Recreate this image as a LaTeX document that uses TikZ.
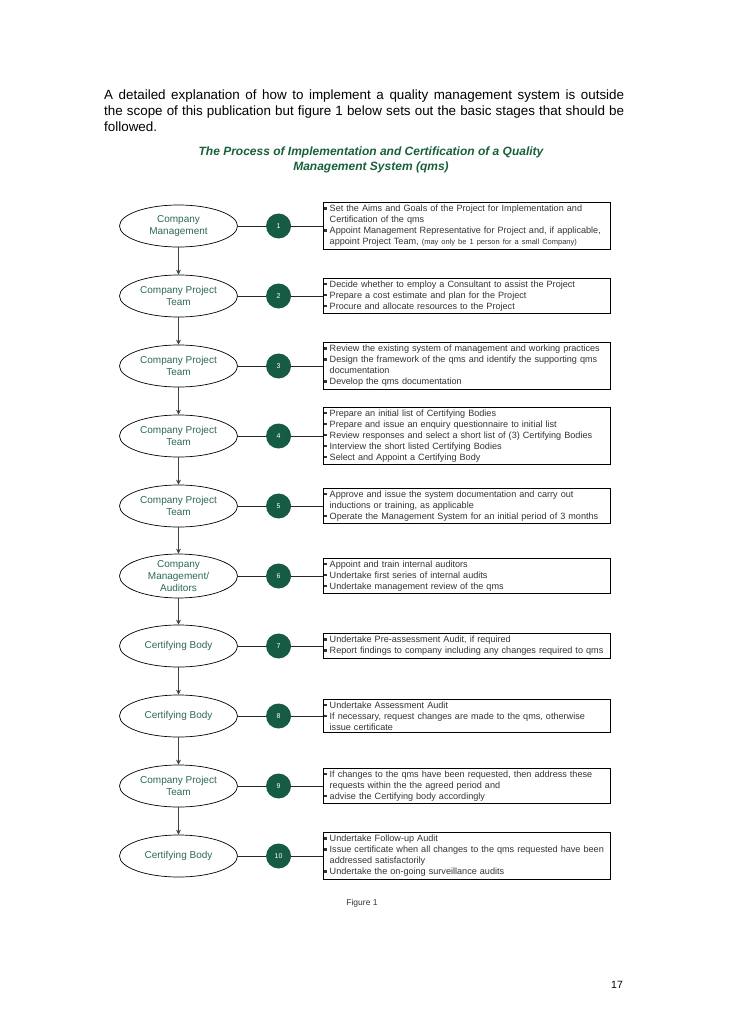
\documentclass[tikz,border=0pt]{standalone}
\usepackage{fontspec}
\setmainfont{Liberation Sans}
\setsansfont{Liberation Sans}
\usetikzlibrary{shapes.geometric, arrows.meta, positioning}

\definecolor{titlegreen}{RGB}{24,96,58}
\definecolor{stepgreen}{RGB}{22,92,68}
\definecolor{roleteal}{RGB}{44,104,88}

\newcommand{\bul}{\makebox[5.5pt][l]{\rule[2pt]{2.4pt}{2.4pt}}}
\newcommand{\cont}{\hspace*{5.5pt}}

\begin{document}
\begin{tikzpicture}[
    x=1pt, y=-1pt,
    font=\sffamily,
    every node/.style={align=center},
    flow/.style={-{Stealth[length=5pt,width=5pt]}, color=black!75, line width=0.7pt},
    link/.style={draw=black!85, line width=0.8pt},
]

% --- Style definitions ---
\tikzset{
    role/.style = {ellipse, draw=black, line width=0.7pt, minimum width=118pt,
        minimum height=42pt, inner sep=0pt, font=\fontsize{10}{12}\selectfont, text=roleteal},
    stepnum/.style = {circle, fill=stepgreen, minimum size=25pt, inner sep=0pt,
        font=\fontsize{7}{8}\selectfont, text=white},
    task/.style = {draw=black, line width=0.9pt, text width=285pt, align=left,
        inner xsep=1pt, inner ysep=2.5pt, font=\fontsize{9.1}{11}\selectfont, text=black!80},
}

\useasboundingbox (0,0) rectangle (728,1030);

% --- Introduction and title ---
\node (intro) [anchor=north west, text width=520pt, align=justify, inner sep=0pt,
    font=\fontsize{13.4}{16}\selectfont] at (104,90)
    {A detailed explanation of how to implement a quality management system is outside\linebreak
     the scope of this publication but figure 1 below sets out the basic stages that should be\linebreak
     followed.};
\node (title) [font=\fontsize{12}{15}\selectfont\bfseries\itshape, text=titlegreen] at (371,160)
    {The Process of Implementation and Certification of a Quality\\Management System (qms)};

% --- Who does it ---
\node (role1) [role] at (178.5,226) {Company\\Management};
\node (role2) [role] at (178.5,296) {Company Project\\Team};
\node (role3) [role] at (178.5,366) {Company Project\\Team};
\node (role4) [role] at (178.5,436) {Company Project\\Team};
\node (role5) [role] at (178.5,506) {Company Project\\Team};
\node (role6) [role] at (178.5,576) {Company\\Management/\\Auditors};
\node (role7) [role] at (178.5,646) {Certifying Body};
\node (role8) [role] at (178.5,716) {Certifying Body};
\node (role9) [role] at (178.5,786) {Company Project\\Team};
\node (role10) [role] at (178.5,856) {Certifying Body};

% --- Stage numbers ---
\node (num1) [stepnum, right=28pt of role1] {1};
\node (num2) [stepnum, right=28pt of role2] {2};
\node (num3) [stepnum, right=28pt of role3] {3};
\node (num4) [stepnum, right=28pt of role4] {4};
\node (num5) [stepnum, right=28pt of role5] {5};
\node (num6) [stepnum, right=28pt of role6] {6};
\node (num7) [stepnum, right=28pt of role7] {7};
\node (num8) [stepnum, right=28pt of role8] {8};
\node (num9) [stepnum, right=28pt of role9] {9};
\node (num10) [stepnum, right=28pt of role10] {10};

% --- Tasks per stage ---
\node (task1) [task, right=31.5pt of num1]
    {\bul Set the Aims and Goals of the Project for Implementation and\\
     \cont Certification of the qms\\
     \bul Appoint Management Representative for Project and, if applicable,\\
     \cont appoint Project Team, {\fontsize{7.5}{11}\selectfont(may only be 1 person for a small Company)}};
\node (task2) [task, right=31.5pt of num2]
    {\bul Decide whether to employ a Consultant to assist the Project\\
     \bul Prepare a cost estimate and plan for the Project\\
     \bul Procure and allocate resources to the Project};
\node (task3) [task, right=31.5pt of num3]
    {\bul Review the existing system of management and working practices\\
     \bul Design the framework of the qms and identify the supporting qms\\
     \cont documentation\\
     \bul Develop the qms documentation};
\node (task4) [task, right=31.5pt of num4]
    {\bul Prepare an initial list of Certifying Bodies\\
     \bul Prepare and issue an enquiry questionnaire to initial list\\
     \bul Review responses and select a short list of (3) Certifying Bodies\\
     \bul Interview the short listed Certifying Bodies\\
     \bul Select and Appoint a Certifying Body};
\node (task5) [task, right=31.5pt of num5]
    {\bul Approve and issue the system documentation and carry out\\
     \cont inductions or training, as applicable\\
     \bul Operate the Management System for an initial period of 3 months};
\node (task6) [task, right=31.5pt of num6]
    {\bul Appoint and train internal auditors\\
     \bul Undertake first series of internal audits\\
     \bul Undertake management review of the qms};
\node (task7) [task, right=31.5pt of num7]
    {\bul Undertake Pre-assessment Audit, if required\\
     \bul Report findings to company including any changes required to qms};
\node (task8) [task, right=31.5pt of num8]
    {\bul Undertake Assessment Audit\\
     \bul If necessary, request changes are made to the qms, otherwise\\
     \cont issue certificate};
\node (task9) [task, right=31.5pt of num9]
    {\bul If changes to the qms have been requested, then address these\\
     \cont requests within the the agreed period and\\
     \bul advise the Certifying body accordingly};
\node (task10) [task, right=31.5pt of num10]
    {\bul Undertake Follow-up Audit\\
     \bul Issue certificate when all changes to the qms requested have been\\
     \cont addressed satisfactorily\\
     \bul Undertake the on-going surveillance audits};

% --- Horizontal links ---
\draw [link] (role1) -- (num1) -- (task1);
\draw [link] (role2) -- (num2) -- (task2);
\draw [link] (role3) -- (num3) -- (task3);
\draw [link] (role4) -- (num4) -- (task4);
\draw [link] (role5) -- (num5) -- (task5);
\draw [link] (role6) -- (num6) -- (task6);
\draw [link] (role7) -- (num7) -- (task7);
\draw [link] (role8) -- (num8) -- (task8);
\draw [link] (role9) -- (num9) -- (task9);
\draw [link] (role10) -- (num10) -- (task10);

% --- Flow between stages ---
\draw [flow] (role1) -- (role2);
\draw [flow] (role2) -- (role3);
\draw [flow] (role3) -- (role4);
\draw [flow] (role4) -- (role5);
\draw [flow] (role5) -- (role6);
\draw [flow] (role6) -- (role7);
\draw [flow] (role7) -- (role8);
\draw [flow] (role8) -- (role9);
\draw [flow] (role9) -- (role10);

% --- Caption and page number ---
\node (caption) [font=\fontsize{8.5}{10}\selectfont, text=black!80] at (362,903) {Figure 1};
\node (pagenum) [font=\fontsize{10.5}{12}\selectfont] at (617,985) {17};

\end{tikzpicture}
\end{document}
